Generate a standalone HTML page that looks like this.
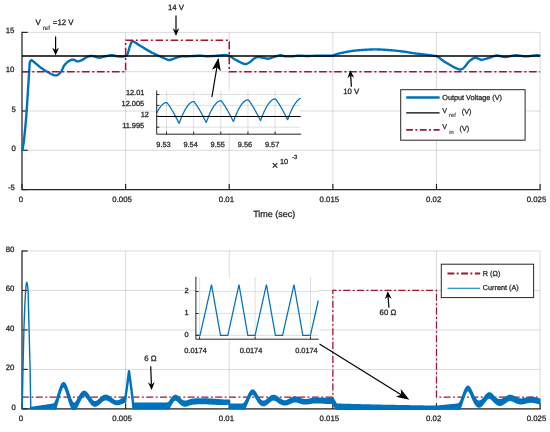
<!DOCTYPE html>
<html lang="en"><head><meta charset="utf-8"><title>Plot</title>
<style>html,body{margin:0;padding:0;background:#fff;overflow:hidden;}svg{display:block;}</style>
</head><body>
<svg width="550" height="432" viewBox="0 0 550 432" font-family='"Liberation Sans", Arial, Helvetica, sans-serif' fill="#262626" text-rendering="geometricPrecision">
<style>text{stroke:#262626;stroke-width:0.28px;stroke-linejoin:round}</style>
<rect width="550" height="432" fill="#fff"/>
<g stroke="#262626" stroke-opacity="0.165" stroke-width="1.0" fill="none"><line x1="22" y1="32.4" x2="22" y2="189.6"/><line x1="125.62" y1="32.4" x2="125.62" y2="189.6"/><line x1="229.24" y1="32.4" x2="229.24" y2="189.6"/><line x1="332.86" y1="32.4" x2="332.86" y2="189.6"/><line x1="436.48" y1="32.4" x2="436.48" y2="189.6"/><line x1="540.1" y1="32.4" x2="540.1" y2="189.6"/><line x1="22" y1="32.4" x2="540.1" y2="32.4"/><line x1="22" y1="71.7" x2="540.1" y2="71.7"/><line x1="22" y1="111" x2="540.1" y2="111"/><line x1="22" y1="150.3" x2="540.1" y2="150.3"/><line x1="22" y1="189.6" x2="540.1" y2="189.6"/></g>
<g stroke="#262626" stroke-opacity="0.165" stroke-width="1.0" fill="none"><line x1="22" y1="251" x2="22" y2="408.9"/><line x1="125.62" y1="251" x2="125.62" y2="408.9"/><line x1="229.24" y1="251" x2="229.24" y2="408.9"/><line x1="332.86" y1="251" x2="332.86" y2="408.9"/><line x1="436.48" y1="251" x2="436.48" y2="408.9"/><line x1="540.1" y1="251" x2="540.1" y2="408.9"/><line x1="22" y1="251" x2="540.1" y2="251"/><line x1="22" y1="290.48" x2="540.1" y2="290.48"/><line x1="22" y1="329.95" x2="540.1" y2="329.95"/><line x1="22" y1="369.42" x2="540.1" y2="369.42"/><line x1="22" y1="408.9" x2="540.1" y2="408.9"/></g>
<g stroke="#262626" stroke-width="1.2" fill="none"><path d="M22 32.4 V189.6 H540.1" stroke-linecap="square"/><line x1="22" y1="189.6" x2="22" y2="183.9"/><line x1="125.62" y1="189.6" x2="125.62" y2="183.9"/><line x1="229.24" y1="189.6" x2="229.24" y2="183.9"/><line x1="332.86" y1="189.6" x2="332.86" y2="183.9"/><line x1="436.48" y1="189.6" x2="436.48" y2="183.9"/><line x1="540.1" y1="189.6" x2="540.1" y2="183.9"/><line x1="22" y1="32.4" x2="27.7" y2="32.4"/><line x1="22" y1="71.7" x2="27.7" y2="71.7"/><line x1="22" y1="111" x2="27.7" y2="111"/><line x1="22" y1="150.3" x2="27.7" y2="150.3"/><line x1="22" y1="189.6" x2="27.7" y2="189.6"/></g>
<path d="M22.4 150.2 L22.49 149.71 L22.59 149.22 L22.68 148.72 L22.77 148.23 L22.86 147.74 L22.94 147.25 L23.03 146.76 L23.11 146.26 L23.2 145.77 L23.28 145.28 L23.36 144.78 L23.43 144.29 L23.51 143.8 L23.58 143.3 L23.65 142.81 L23.72 142.31 L23.78 141.82 L23.85 141.32 L23.91 140.82 L23.96 140.33 L24.02 139.83 L24.07 139.33 L24.13 138.84 L24.18 138.34 L24.23 137.84 L24.28 137.35 L24.34 136.85 L24.39 136.35 L24.44 135.85 L24.49 135.36 L24.54 134.86 L24.6 134.36 L24.65 133.87 L24.7 133.37 L24.75 132.87 L24.8 132.37 L24.85 131.88 L24.9 131.38 L24.95 130.88 L25 130.38 L25.05 129.89 L25.09 129.39 L25.14 128.89 L25.19 128.39 L25.24 127.9 L25.29 127.4 L25.33 126.9 L25.38 126.4 L25.43 125.91 L25.47 125.41 L25.52 124.91 L25.56 124.41 L25.61 123.92 L25.65 123.42 L25.7 122.92 L25.74 122.42 L25.78 121.92 L25.83 121.43 L25.87 120.93 L25.91 120.43 L25.95 119.93 L25.99 119.43 L26.04 118.94 L26.08 118.44 L26.12 117.94 L26.16 117.44 L26.2 116.94 L26.24 116.45 L26.27 115.95 L26.31 115.45 L26.35 114.95 L26.39 114.45 L26.42 113.95 L26.46 113.46 L26.5 112.96 L26.53 112.46 L26.57 111.96 L26.6 111.46 L26.64 110.96 L26.67 110.46 L26.7 109.97 L26.74 109.47 L26.77 108.97 L26.8 108.47 L26.83 107.97 L26.87 107.47 L26.9 106.97 L26.93 106.48 L26.96 105.98 L27 105.48 L27.03 104.98 L27.06 104.48 L27.09 103.98 L27.13 103.48 L27.16 102.98 L27.19 102.49 L27.22 101.99 L27.26 101.49 L27.29 100.99 L27.32 100.49 L27.35 99.99 L27.39 99.49 L27.42 98.99 L27.45 98.5 L27.48 98 L27.52 97.5 L27.55 97 L27.58 96.5 L27.61 96 L27.64 95.5 L27.68 95.01 L27.71 94.51 L27.74 94.01 L27.77 93.51 L27.81 93.01 L27.84 92.51 L27.87 92.01 L27.9 91.51 L27.93 91.02 L27.97 90.52 L28 90.02 L28.03 89.52 L28.06 89.02 L28.1 88.52 L28.13 88.02 L28.16 87.52 L28.19 87.03 L28.22 86.53 L28.25 86.03 L28.29 85.53 L28.32 85.03 L28.35 84.53 L28.38 84.03 L28.41 83.53 L28.44 83.04 L28.47 82.54 L28.5 82.04 L28.54 81.54 L28.57 81.04 L28.6 80.54 L28.63 80.04 L28.66 79.54 L28.69 79.05 L28.72 78.55 L28.75 78.05 L28.78 77.55 L28.81 77.05 L28.84 76.55 L28.88 76.05 L28.91 75.55 L28.94 75.05 L28.97 74.56 L29 74.06 L29.03 73.56 L29.06 73.06 L29.09 72.56 L29.12 72.06 L29.15 71.56 L29.18 71.06 L29.21 70.57 L29.25 70.07 L29.28 69.57 L29.31 69.07 L29.34 68.57 L29.37 68.07 L29.4 67.57 L29.43 67.07 L29.46 66.58 L29.5 66.08 L29.52 65.58 L29.53 65.08 L29.54 64.59 L29.56 64.1 L29.6 63.61 L29.67 63.12 L29.77 62.63 L29.93 62.14 L30.14 61.65 L30.42 61.16 L30.78 60.65 L31.17 60.24 L31.58 60.19 L31.98 60.43 L32.39 60.72 L32.79 61.03 L33.19 61.35 L33.59 61.67 L33.98 61.99 L34.37 62.31 L34.76 62.63 L35.15 62.95 L35.53 63.27 L35.91 63.6 L36.29 63.92 L36.67 64.24 L37.05 64.56 L37.43 64.88 L37.81 65.2 L38.19 65.52 L38.57 65.84 L38.96 66.16 L39.34 66.47 L39.73 66.79 L40.12 67.1 L40.52 67.4 L40.92 67.7 L41.32 68 L41.72 68.29 L42.13 68.58 L42.54 68.86 L42.95 69.14 L43.36 69.41 L43.78 69.68 L44.19 69.95 L44.61 70.21 L45.03 70.47 L45.46 70.73 L45.88 70.99 L46.31 71.25 L46.74 71.5 L47.17 71.76 L47.61 72.01 L48.04 72.27 L48.48 72.52 L48.92 72.78 L49.36 73.03 L49.8 73.29 L50.25 73.54 L50.71 73.79 L51.17 74.03 L51.64 74.26 L52.12 74.48 L52.6 74.67 L53.08 74.85 L53.57 75.01 L54.05 75.15 L54.53 75.25 L55.01 75.33 L55.49 75.38 L55.96 75.4 L56.42 75.36 L56.87 75.26 L57.32 75.09 L57.76 74.86 L58.2 74.58 L58.62 74.27 L59.03 73.92 L59.44 73.55 L59.83 73.17 L60.21 72.77 L60.56 72.37 L60.88 71.95 L61.17 71.52 L61.44 71.09 L61.69 70.65 L61.92 70.2 L62.14 69.75 L62.35 69.3 L62.55 68.84 L62.75 68.39 L62.95 67.94 L63.15 67.49 L63.36 67.04 L63.58 66.61 L63.81 66.18 L64.06 65.76 L64.33 65.35 L64.63 64.95 L64.95 64.56 L65.28 64.19 L65.63 63.83 L65.97 63.47 L66.32 63.13 L66.68 62.8 L67.05 62.47 L67.42 62.15 L67.81 61.85 L68.2 61.55 L68.62 61.26 L69.04 60.97 L69.49 60.7 L69.95 60.43 L70.43 60.18 L70.91 59.99 L71.4 59.84 L71.89 59.73 L72.37 59.65 L72.85 59.61 L73.32 59.61 L73.79 59.72 L74.26 59.9 L74.73 60.14 L75.2 60.42 L75.67 60.7 L76.14 60.97 L76.61 61.19 L77.08 61.36 L77.55 61.43 L78.02 61.4 L78.5 61.29 L78.97 61.17 L79.44 61.02 L79.91 60.86 L80.38 60.69 L80.86 60.5 L81.33 60.3 L81.8 60.09 L82.27 59.87 L82.72 59.64 L83.16 59.39 L83.59 59.14 L84.01 58.87 L84.42 58.61 L84.84 58.34 L85.25 58.07 L85.66 57.81 L86.09 57.55 L86.52 57.31 L86.96 57.07 L87.42 56.85 L87.89 56.64 L88.38 56.46 L88.87 56.32 L89.37 56.21 L89.86 56.12 L90.36 56.06 L90.86 56.03 L91.35 56.01 L91.84 56 L92.33 56.01 L92.82 56.07 L93.31 56.16 L93.81 56.28 L94.3 56.42 L94.79 56.58 L95.28 56.75 L95.77 56.92 L96.26 57.09 L96.75 57.25 L97.24 57.39 L97.73 57.52 L98.22 57.61 L98.71 57.67 L99.2 57.68 L99.69 57.65 L100.17 57.57 L100.66 57.46 L101.15 57.36 L101.63 57.24 L102.12 57.13 L102.61 57.01 L103.09 56.89 L103.58 56.77 L104.06 56.65 L104.55 56.53 L105.04 56.42 L105.52 56.3 L106.01 56.2 L106.5 56.09 L106.99 55.98 L107.48 55.88 L107.97 55.77 L108.46 55.67 L108.95 55.57 L109.44 55.47 L109.93 55.38 L110.42 55.29 L110.91 55.21 L111.4 55.16 L111.9 55.14 L112.39 55.17 L112.88 55.23 L113.37 55.32 L113.86 55.43 L114.36 55.56 L114.85 55.69 L115.34 55.83 L115.84 55.97 L116.33 56.1 L116.82 56.22 L117.32 56.31 L117.81 56.38 L118.3 56.42 L118.8 56.46 L119.29 56.49 L119.79 56.51 L120.29 56.53 L120.79 56.54 L121.29 56.53 L121.8 56.52 L122.3 56.5 L122.8 56.47 L123.3 56.43 L123.8 56.38 L124.3 56.31 L124.8 56.24 L125.3 56.14 L125.8 55.98 L126.27 55.75 L126.68 55.44 L126.98 55.03 L127.21 54.56 L127.42 54.1 L127.62 53.63 L127.8 53.15 L127.97 52.68 L128.13 52.2 L128.28 51.73 L128.43 51.25 L128.57 50.77 L128.7 50.3 L128.83 49.82 L128.97 49.34 L129.1 48.86 L129.23 48.39 L129.37 47.91 L129.52 47.44 L129.67 46.96 L129.82 46.49 L129.99 46.02 L130.16 45.56 L130.33 45.09 L130.49 44.62 L130.66 44.16 L130.84 43.7 L131.02 43.23 L131.22 42.77 L131.44 42.31 L131.69 41.85 L132.05 41.42 L132.49 41.2 L132.95 41.27 L133.42 41.47 L133.88 41.72 L134.31 41.99 L134.73 42.26 L135.15 42.53 L135.57 42.8 L135.99 43.07 L136.42 43.34 L136.84 43.6 L137.26 43.87 L137.68 44.14 L138.1 44.41 L138.52 44.68 L138.94 44.94 L139.37 45.21 L139.79 45.47 L140.22 45.73 L140.64 45.99 L141.07 46.26 L141.49 46.52 L141.92 46.78 L142.34 47.04 L142.77 47.31 L143.19 47.57 L143.62 47.83 L144.04 48.09 L144.47 48.35 L144.9 48.61 L145.32 48.87 L145.75 49.13 L146.18 49.39 L146.61 49.65 L147.04 49.9 L147.47 50.16 L147.9 50.41 L148.33 50.66 L148.77 50.91 L149.2 51.15 L149.64 51.4 L150.08 51.64 L150.51 51.88 L150.96 52.12 L151.4 52.35 L151.84 52.58 L152.29 52.8 L152.74 53.03 L153.19 53.25 L153.63 53.46 L154.09 53.68 L154.54 53.89 L154.99 54.1 L155.44 54.31 L155.9 54.52 L156.35 54.73 L156.8 54.94 L157.26 55.15 L157.71 55.35 L158.17 55.56 L158.63 55.77 L159.08 55.98 L159.53 56.19 L159.99 56.4 L160.44 56.6 L160.9 56.81 L161.35 57.01 L161.81 57.22 L162.26 57.42 L162.72 57.61 L163.18 57.81 L163.63 58.01 L164.09 58.2 L164.55 58.4 L165.02 58.59 L165.48 58.78 L165.95 58.98 L166.42 59.18 L166.9 59.4 L167.39 59.61 L167.88 59.81 L168.37 59.96 L168.86 60.06 L169.35 60.1 L169.83 60.04 L170.3 59.91 L170.78 59.75 L171.25 59.59 L171.72 59.42 L172.19 59.25 L172.66 59.08 L173.13 58.91 L173.6 58.74 L174.08 58.57 L174.55 58.41 L175.02 58.24 L175.48 58.06 L175.95 57.88 L176.42 57.7 L176.88 57.53 L177.35 57.36 L177.83 57.19 L178.3 57.04 L178.78 56.89 L179.27 56.76 L179.76 56.65 L180.25 56.55 L180.75 56.47 L181.25 56.41 L181.74 56.35 L182.24 56.31 L182.74 56.28 L183.24 56.26 L183.74 56.25 L184.24 56.24 L184.74 56.23 L185.24 56.23 L185.74 56.23 L186.24 56.23 L186.74 56.23 L187.24 56.22 L187.74 56.21 L188.24 56.19 L188.74 56.17 L189.24 56.16 L189.74 56.14 L190.24 56.13 L190.74 56.11 L191.24 56.09 L191.74 56.08 L192.23 56.06 L192.73 56.04 L193.23 56.03 L193.73 56.01 L194.23 55.99 L194.73 55.97 L195.23 55.93 L195.73 55.9 L196.23 55.86 L196.73 55.82 L197.23 55.78 L197.72 55.74 L198.22 55.7 L198.72 55.66 L199.22 55.63 L199.72 55.61 L200.22 55.6 L200.71 55.6 L201.21 55.64 L201.71 55.69 L202.21 55.75 L202.7 55.82 L203.2 55.9 L203.7 55.97 L204.19 56.05 L204.69 56.11 L205.19 56.16 L205.68 56.19 L206.18 56.2 L206.68 56.21 L207.18 56.21 L207.68 56.21 L208.18 56.2 L208.68 56.2 L209.18 56.19 L209.68 56.18 L210.18 56.17 L210.68 56.15 L211.18 56.14 L211.68 56.12 L212.18 56.1 L212.68 56.07 L213.18 56.05 L213.68 56.02 L214.18 55.99 L214.67 55.95 L215.17 55.91 L215.67 55.86 L216.17 55.81 L216.66 55.75 L217.16 55.7 L217.66 55.64 L218.16 55.58 L218.65 55.53 L219.15 55.48 L219.65 55.43 L220.14 55.39 L220.64 55.34 L221.14 55.3 L221.64 55.25 L222.14 55.2 L222.65 55.16 L223.15 55.12 L223.65 55.09 L224.15 55.06 L224.66 55.05 L225.16 55.06 L225.66 55.08 L226.16 55.12 L226.66 55.17 L227.16 55.26 L227.65 55.36 L228.15 55.5 L228.64 55.66 L229.13 55.85 L229.6 56.07 L230.06 56.3 L230.51 56.54 L230.94 56.8 L231.37 57.06 L231.79 57.33 L232.2 57.6 L232.61 57.88 L233.02 58.16 L233.43 58.43 L233.84 58.7 L234.26 58.96 L234.68 59.22 L235.11 59.46 L235.55 59.7 L235.99 59.94 L236.42 60.18 L236.86 60.42 L237.3 60.66 L237.74 60.89 L238.18 61.13 L238.62 61.36 L239.06 61.6 L239.5 61.83 L239.95 62.06 L240.39 62.29 L240.84 62.52 L241.3 62.75 L241.76 62.98 L242.24 63.19 L242.72 63.4 L243.21 63.58 L243.71 63.74 L244.2 63.87 L244.69 63.96 L245.17 64.02 L245.65 64.03 L246.12 63.98 L246.59 63.88 L247.04 63.73 L247.5 63.54 L247.95 63.3 L248.39 63.05 L248.83 62.77 L249.27 62.48 L249.7 62.19 L250.14 61.91 L250.55 61.62 L250.94 61.31 L251.31 60.99 L251.68 60.66 L252.04 60.33 L252.4 59.99 L252.76 59.66 L253.12 59.33 L253.5 59.01 L253.9 58.7 L254.32 58.41 L254.77 58.13 L255.24 57.87 L255.72 57.64 L256.2 57.44 L256.69 57.27 L257.17 57.13 L257.66 57.04 L258.15 56.98 L258.63 56.97 L259.12 57.01 L259.61 57.08 L260.1 57.16 L260.59 57.26 L261.08 57.36 L261.57 57.47 L262.06 57.59 L262.55 57.7 L263.04 57.82 L263.53 57.93 L264.02 58.03 L264.51 58.12 L265 58.2 L265.5 58.29 L266 58.4 L266.5 58.52 L267.01 58.63 L267.51 58.7 L268.01 58.74 L268.5 58.71 L268.98 58.61 L269.46 58.45 L269.94 58.3 L270.41 58.15 L270.89 58 L271.36 57.84 L271.84 57.69 L272.32 57.54 L272.79 57.39 L273.27 57.23 L273.74 57.08 L274.22 56.93 L274.7 56.78 L275.17 56.63 L275.65 56.47 L276.12 56.32 L276.6 56.17 L277.08 56.02 L277.55 55.86 L278.03 55.71 L278.5 55.56 L278.98 55.41 L279.46 55.29 L279.94 55.24 L280.43 55.25 L280.92 55.3 L281.42 55.39 L281.92 55.51 L282.41 55.65 L282.92 55.79 L283.42 55.92 L283.92 56.04 L284.42 56.14 L284.92 56.2 L285.42 56.22 L285.92 56.25 L286.42 56.28 L286.92 56.31 L287.42 56.33 L287.92 56.35 L288.42 56.37 L288.92 56.39 L289.42 56.4 L289.92 56.41 L290.42 56.41 L290.92 56.4 L291.41 56.39 L291.91 56.36 L292.41 56.32 L292.91 56.27 L293.4 56.21 L293.9 56.14 L294.4 56.07 L294.89 56 L295.39 55.93 L295.89 55.86 L296.38 55.79 L296.88 55.73 L297.38 55.68 L297.88 55.64 L298.37 55.62 L298.87 55.6 L299.37 55.6 L299.87 55.61 L300.37 55.63 L300.87 55.66 L301.37 55.69 L301.87 55.72 L302.36 55.76 L302.86 55.8 L303.36 55.84 L303.86 55.88 L304.36 55.91 L304.86 55.94 L305.36 55.97 L305.86 55.99 L306.36 56 L306.86 56 L307.36 55.99 L307.86 55.98 L308.36 55.97 L308.86 55.96 L309.36 55.94 L309.86 55.93 L310.35 55.91 L310.85 55.9 L311.35 55.88 L311.85 55.87 L312.35 55.85 L312.85 55.84 L313.35 55.83 L313.85 55.81 L314.35 55.81 L314.85 55.8 L315.35 55.8 L315.85 55.8 L316.35 55.79 L316.85 55.79 L317.35 55.79 L317.85 55.79 L318.35 55.79 L318.85 55.79 L319.35 55.79 L319.85 55.79 L320.35 55.8 L320.85 55.8 L321.35 55.8 L321.85 55.8 L322.35 55.8 L322.85 55.8 L323.35 55.8 L323.85 55.8 L324.35 55.8 L324.85 55.8 L325.35 55.8 L325.85 55.8 L326.35 55.8 L326.85 55.8 L327.35 55.8 L327.84 55.79 L328.34 55.79 L328.84 55.78 L329.34 55.76 L329.84 55.75 L330.34 55.72 L330.84 55.69 L331.34 55.66 L331.84 55.62 L332.34 55.56 L332.83 55.46 L333.31 55.33 L333.78 55.17 L334.25 55 L334.72 54.81 L335.19 54.62 L335.65 54.44 L336.13 54.26 L336.6 54.11 L337.09 53.98 L337.57 53.86 L338.06 53.74 L338.54 53.63 L339.03 53.51 L339.51 53.4 L340 53.28 L340.49 53.17 L340.97 53.05 L341.46 52.94 L341.95 52.83 L342.44 52.73 L342.92 52.62 L343.41 52.52 L343.9 52.42 L344.39 52.32 L344.89 52.22 L345.38 52.13 L345.87 52.04 L346.36 51.94 L346.85 51.85 L347.34 51.76 L347.84 51.67 L348.33 51.59 L348.82 51.5 L349.31 51.42 L349.81 51.33 L350.3 51.25 L350.79 51.17 L351.29 51.1 L351.78 51.02 L352.27 50.95 L352.77 50.88 L353.26 50.81 L353.76 50.75 L354.26 50.69 L354.75 50.63 L355.25 50.57 L355.75 50.52 L356.24 50.47 L356.74 50.42 L357.24 50.37 L357.74 50.32 L358.24 50.28 L358.73 50.23 L359.23 50.19 L359.73 50.15 L360.23 50.11 L360.73 50.08 L361.22 50.04 L361.72 50.01 L362.22 49.97 L362.72 49.94 L363.22 49.91 L363.72 49.88 L364.22 49.85 L364.71 49.82 L365.21 49.79 L365.71 49.76 L366.21 49.73 L366.71 49.7 L367.21 49.67 L367.71 49.65 L368.21 49.62 L368.71 49.59 L369.21 49.57 L369.71 49.54 L370.21 49.52 L370.71 49.5 L371.21 49.48 L371.71 49.46 L372.21 49.45 L372.71 49.43 L373.21 49.42 L373.7 49.41 L374.2 49.4 L374.7 49.4 L375.2 49.4 L375.7 49.4 L376.2 49.4 L376.7 49.41 L377.2 49.42 L377.7 49.43 L378.2 49.44 L378.7 49.46 L379.2 49.48 L379.7 49.5 L380.2 49.52 L380.7 49.54 L381.19 49.57 L381.69 49.59 L382.19 49.62 L382.69 49.65 L383.19 49.68 L383.69 49.71 L384.19 49.75 L384.69 49.78 L385.19 49.81 L385.69 49.85 L386.19 49.88 L386.68 49.92 L387.18 49.95 L387.68 49.99 L388.18 50.02 L388.68 50.06 L389.18 50.1 L389.68 50.14 L390.17 50.18 L390.67 50.21 L391.17 50.26 L391.67 50.3 L392.16 50.34 L392.66 50.38 L393.16 50.43 L393.66 50.47 L394.16 50.52 L394.65 50.57 L395.15 50.61 L395.65 50.67 L396.15 50.72 L396.64 50.77 L397.14 50.82 L397.64 50.88 L398.13 50.93 L398.63 50.99 L399.13 51.05 L399.62 51.1 L400.12 51.16 L400.61 51.22 L401.11 51.28 L401.61 51.35 L402.1 51.41 L402.6 51.47 L403.09 51.54 L403.59 51.61 L404.08 51.67 L404.58 51.74 L405.07 51.81 L405.57 51.88 L406.06 51.96 L406.56 52.03 L407.05 52.11 L407.54 52.19 L408.04 52.28 L408.53 52.36 L409.02 52.44 L409.51 52.53 L410.01 52.61 L410.5 52.7 L410.99 52.78 L411.49 52.87 L411.98 52.95 L412.47 53.03 L412.97 53.11 L413.46 53.18 L413.95 53.26 L414.45 53.33 L414.94 53.39 L415.44 53.46 L415.93 53.52 L416.43 53.58 L416.93 53.64 L417.42 53.7 L417.92 53.76 L418.41 53.82 L418.91 53.88 L419.41 53.94 L419.9 54 L420.4 54.05 L420.9 54.11 L421.39 54.17 L421.89 54.23 L422.39 54.29 L422.88 54.34 L423.38 54.4 L423.87 54.46 L424.37 54.52 L424.87 54.58 L425.36 54.65 L425.86 54.71 L426.35 54.77 L426.85 54.83 L427.35 54.9 L427.84 54.96 L428.34 55.03 L428.83 55.1 L429.33 55.16 L429.82 55.23 L430.32 55.3 L430.81 55.36 L431.31 55.43 L431.8 55.5 L432.3 55.57 L432.79 55.64 L433.29 55.7 L433.78 55.77 L434.28 55.84 L434.77 55.91 L435.27 55.98 L435.76 56.07 L436.25 56.18 L436.73 56.31 L437.21 56.48 L437.68 56.68 L438.12 56.92 L438.55 57.18 L438.97 57.46 L439.37 57.76 L439.76 58.07 L440.14 58.4 L440.52 58.73 L440.9 59.06 L441.28 59.39 L441.66 59.71 L442.05 60.02 L442.44 60.32 L442.85 60.61 L443.28 60.87 L443.7 61.14 L444.12 61.4 L444.55 61.67 L444.97 61.93 L445.39 62.19 L445.82 62.45 L446.24 62.71 L446.67 62.97 L447.1 63.23 L447.52 63.49 L447.95 63.75 L448.38 64.01 L448.81 64.26 L449.24 64.52 L449.67 64.77 L450.1 65.02 L450.54 65.28 L450.97 65.53 L451.41 65.78 L451.84 66.02 L452.28 66.27 L452.72 66.51 L453.16 66.74 L453.61 66.96 L454.05 67.19 L454.5 67.4 L454.95 67.62 L455.4 67.83 L455.85 68.04 L456.31 68.24 L456.77 68.45 L457.22 68.66 L457.68 68.86 L458.15 69.06 L458.63 69.25 L459.12 69.39 L459.62 69.48 L460.12 69.52 L460.6 69.49 L461.07 69.38 L461.53 69.22 L461.98 69.01 L462.42 68.75 L462.85 68.46 L463.27 68.14 L463.68 67.81 L464.07 67.46 L464.44 67.1 L464.79 66.73 L465.12 66.36 L465.44 65.97 L465.75 65.58 L466.04 65.19 L466.33 64.79 L466.62 64.39 L466.91 63.99 L467.2 63.59 L467.49 63.2 L467.8 62.81 L468.11 62.42 L468.45 62.05 L468.8 61.68 L469.17 61.32 L469.56 60.97 L469.95 60.64 L470.35 60.31 L470.75 59.99 L471.16 59.69 L471.57 59.4 L471.99 59.13 L472.42 58.87 L472.85 58.64 L473.3 58.42 L473.75 58.22 L474.22 58.05 L474.7 57.9 L475.18 57.81 L475.67 57.79 L476.15 57.85 L476.64 57.97 L477.13 58.13 L477.62 58.32 L478.1 58.54 L478.59 58.77 L479.08 59 L479.57 59.23 L480.06 59.42 L480.54 59.59 L481.03 59.71 L481.51 59.77 L482 59.77 L482.48 59.68 L482.96 59.56 L483.45 59.45 L483.93 59.32 L484.41 59.2 L484.89 59.07 L485.38 58.94 L485.86 58.81 L486.34 58.68 L486.82 58.54 L487.31 58.4 L487.79 58.26 L488.27 58.12 L488.75 57.98 L489.23 57.83 L489.71 57.67 L490.18 57.51 L490.65 57.34 L491.12 57.17 L491.58 57 L492.05 56.83 L492.52 56.65 L492.99 56.48 L493.46 56.32 L493.93 56.16 L494.41 56.01 L494.89 55.86 L495.38 55.73 L495.87 55.62 L496.36 55.55 L496.85 55.53 L497.35 55.53 L497.84 55.57 L498.34 55.64 L498.83 55.73 L499.33 55.84 L499.83 55.96 L500.32 56.09 L500.82 56.22 L501.32 56.36 L501.81 56.5 L502.31 56.62 L502.81 56.74 L503.3 56.84 L503.8 56.92 L504.29 56.98 L504.79 57.01 L505.28 57 L505.78 56.97 L506.27 56.92 L506.76 56.86 L507.26 56.79 L507.75 56.71 L508.24 56.62 L508.74 56.52 L509.23 56.42 L509.72 56.31 L510.22 56.2 L510.71 56.09 L511.2 55.98 L511.7 55.88 L512.19 55.78 L512.68 55.68 L513.18 55.59 L513.67 55.51 L514.17 55.44 L514.66 55.38 L515.16 55.34 L515.65 55.31 L516.15 55.3 L516.64 55.31 L517.14 55.33 L517.63 55.36 L518.13 55.41 L518.63 55.47 L519.12 55.54 L519.62 55.61 L520.12 55.69 L520.61 55.77 L521.11 55.86 L521.61 55.94 L522.1 56.02 L522.6 56.1 L523.1 56.17 L523.59 56.24 L524.09 56.3 L524.59 56.34 L525.08 56.38 L525.58 56.4 L526.08 56.4 L526.58 56.39 L527.07 56.37 L527.57 56.33 L528.07 56.29 L528.57 56.24 L529.06 56.18 L529.56 56.12 L530.06 56.05 L530.55 55.98 L531.05 55.9 L531.55 55.83 L532.05 55.75 L532.54 55.68 L533.04 55.61 L533.54 55.54 L534.04 55.48 L534.53 55.43 L535.03 55.38 L535.53 55.34 L536.03 55.32 L536.52 55.3 L537.02 55.3 L537.52 55.32 L538.01 55.35 L538.51 55.41 L539 55.5 L539.5 55.6" fill="none" stroke="#0072BD" stroke-width="2.4" stroke-linejoin="round" stroke-linecap="round"/>
<line x1="22" y1="55.98" x2="540.1" y2="55.98" stroke="#000" stroke-width="1.35"/>
<path d="M22 71.7 L125.62 71.7 L125.62 40.26 L229.24 40.26 L229.24 71.7 L540.1 71.7" fill="none" stroke="#A2142F" stroke-width="1.5" stroke-dasharray="7.6 2.7 2 2.7"/>
<text x="5.64" y="33" font-size="7.8" text-anchor="start">15</text>
<text x="5.64" y="72.3" font-size="7.8" text-anchor="start">10</text>
<text x="11.42" y="111.6" font-size="7.8" text-anchor="start">5</text>
<text x="11.42" y="150.9" font-size="7.8" text-anchor="start">0</text>
<text x="7.95" y="190.2" font-size="7.8" text-anchor="start">-5</text>
<text x="20.98" y="201.5" font-size="7.8" text-anchor="middle">0</text>
<text x="122.07" y="201.5" font-size="7.8" text-anchor="middle">0.005</text>
<text x="226.41" y="201.5" font-size="7.8" text-anchor="middle">0.01</text>
<text x="329.31" y="201.5" font-size="7.8" text-anchor="middle">0.015</text>
<text x="433.65" y="201.5" font-size="7.8" text-anchor="middle">0.02</text>
<text x="536.55" y="201.5" font-size="7.8" text-anchor="middle">0.025</text>
<text x="274.3" y="216.6" font-size="9.0" text-anchor="middle">Time (sec)</text>
<rect x="156.7" y="90.9" width="144" height="43.3" fill="#fff"/>
<g stroke="#262626" stroke-opacity="0.165" stroke-width="0.9" fill="none"><line x1="166.5" y1="90.9" x2="166.5" y2="134.2"/><line x1="193.65" y1="90.9" x2="193.65" y2="134.2"/><line x1="220.8" y1="90.9" x2="220.8" y2="134.2"/><line x1="247.95" y1="90.9" x2="247.95" y2="134.2"/><line x1="275.1" y1="90.9" x2="275.1" y2="134.2"/><line x1="156.7" y1="94.5" x2="300.7" y2="94.5"/><line x1="156.7" y1="105.4" x2="300.7" y2="105.4"/><line x1="156.7" y1="116.3" x2="300.7" y2="116.3"/><line x1="156.7" y1="127.2" x2="300.7" y2="127.2"/></g>
<path d="M156.7 113.07 L156.95 112.57 L157.2 112.09 L157.45 111.62 L157.7 111.16 L157.95 110.71 L158.2 110.27 L158.45 109.85 L158.7 109.43 L158.95 109.03 L159.2 108.64 L159.45 108.26 L159.7 107.89 L159.95 107.53 L160.2 107.18 L160.45 106.85 L160.7 106.53 L160.95 106.22 L161.2 105.92 L161.45 105.63 L161.7 105.36 L161.95 105.09 L162.2 104.84 L162.45 104.6 L162.7 104.38 L162.95 104.16 L163.2 103.96 L163.45 103.77 L163.7 103.59 L163.95 103.43 L164.2 103.27 L164.45 103.14 L164.7 103.01 L164.95 102.9 L165.2 102.8 L165.45 102.71 L165.7 102.64 L165.95 102.58 L166.2 102.54 L166.45 102.51 L166.7 102.56 L166.95 102.78 L167.2 103.04 L167.45 103.32 L167.7 103.62 L167.95 103.93 L168.2 104.26 L168.45 104.59 L168.7 104.94 L168.95 105.29 L169.2 105.65 L169.45 106.02 L169.7 106.4 L169.95 106.78 L170.2 107.17 L170.45 107.56 L170.7 107.96 L170.95 108.36 L171.2 108.77 L171.45 109.19 L171.7 109.6 L171.95 110.03 L172.2 110.45 L172.45 110.88 L172.7 111.31 L172.95 111.75 L173.2 112.19 L173.45 112.64 L173.7 113.08 L173.95 113.53 L174.2 113.99 L174.45 114.44 L174.7 114.9 L174.95 115.37 L175.2 115.83 L175.45 116.3 L175.7 116.77 L175.95 117.24 L176.2 117.72 L176.45 118.2 L176.7 118.68 L176.95 119.16 L177.2 119.65 L177.45 120.14 L177.7 120.63 L177.95 121.12 L178.2 121.61 L178.45 122.11 L178.7 122.61 L178.95 123.11 L179.2 123.28 L179.45 122.58 L179.7 121.9 L179.95 121.22 L180.2 120.56 L180.45 119.9 L180.7 119.26 L180.95 118.63 L181.2 118.01 L181.45 117.4 L181.7 116.8 L181.95 116.21 L182.2 115.63 L182.45 115.07 L182.7 114.51 L182.95 113.97 L183.2 113.44 L183.45 112.92 L183.7 112.4 L183.95 111.91 L184.2 111.42 L184.45 110.94 L184.7 110.47 L184.95 110.02 L185.2 109.58 L185.45 109.14 L185.7 108.72 L185.95 108.31 L186.2 107.92 L186.45 107.53 L186.7 107.15 L186.95 106.79 L187.2 106.44 L187.45 106.1 L187.7 105.77 L187.95 105.45 L188.2 105.15 L188.45 104.86 L188.7 104.57 L188.95 104.3 L189.2 104.05 L189.45 103.8 L189.7 103.57 L189.95 103.35 L190.2 103.14 L190.45 102.94 L190.7 102.76 L190.95 102.59 L191.2 102.43 L191.45 102.28 L191.7 102.15 L191.95 102.03 L192.2 101.92 L192.45 101.83 L192.7 101.75 L192.95 101.69 L193.2 101.63 L193.45 101.6 L193.7 101.58 L193.95 101.74 L194.2 101.98 L194.45 102.25 L194.7 102.54 L194.95 102.84 L195.2 103.16 L195.45 103.49 L195.7 103.83 L195.95 104.18 L196.2 104.54 L196.45 104.91 L196.7 105.28 L196.95 105.66 L197.2 106.04 L197.45 106.43 L197.7 106.83 L197.95 107.23 L198.2 107.64 L198.45 108.05 L198.7 108.46 L198.95 108.88 L199.2 109.31 L199.45 109.73 L199.7 110.17 L199.95 110.6 L200.2 111.04 L200.45 111.48 L200.7 111.93 L200.95 112.38 L201.2 112.83 L201.45 113.28 L201.7 113.74 L201.95 114.2 L202.2 114.67 L202.45 115.13 L202.7 115.6 L202.95 116.07 L203.2 116.55 L203.45 117.03 L203.7 117.51 L203.95 117.99 L204.2 118.47 L204.45 118.96 L204.7 119.45 L204.95 119.94 L205.2 120.43 L205.45 120.93 L205.7 121.43 L205.95 121.93 L206.2 122.43 L206.45 122.02 L206.7 121.33 L206.95 120.65 L207.2 119.98 L207.45 119.32 L207.7 118.67 L207.95 118.03 L208.2 117.41 L208.45 116.79 L208.7 116.19 L208.95 115.59 L209.2 115.01 L209.45 114.44 L209.7 113.88 L209.95 113.33 L210.2 112.79 L210.45 112.26 L210.7 111.75 L210.95 111.24 L211.2 110.75 L211.45 110.26 L211.7 109.79 L211.95 109.33 L212.2 108.88 L212.45 108.44 L212.7 108.02 L212.95 107.6 L213.2 107.2 L213.45 106.81 L213.7 106.43 L213.95 106.06 L214.2 105.7 L214.45 105.35 L214.7 105.02 L214.95 104.69 L215.2 104.38 L215.45 104.08 L215.7 103.8 L215.95 103.52 L216.2 103.26 L216.45 103.01 L216.7 102.77 L216.95 102.54 L217.2 102.32 L217.45 102.12 L217.7 101.93 L217.95 101.75 L218.2 101.59 L218.45 101.44 L218.7 101.3 L218.95 101.17 L219.2 101.06 L219.45 100.96 L219.7 100.87 L219.95 100.8 L220.2 100.74 L220.45 100.69 L220.7 100.66 L220.95 100.71 L221.2 100.93 L221.45 101.18 L221.7 101.46 L221.95 101.76 L222.2 102.07 L222.45 102.4 L222.7 102.73 L222.95 103.08 L223.2 103.43 L223.45 103.79 L223.7 104.16 L223.95 104.54 L224.2 104.92 L224.45 105.31 L224.7 105.7 L224.95 106.1 L225.2 106.5 L225.45 106.91 L225.7 107.32 L225.95 107.74 L226.2 108.16 L226.45 108.59 L226.7 109.02 L226.95 109.45 L227.2 109.89 L227.45 110.33 L227.7 110.77 L227.95 111.22 L228.2 111.67 L228.45 112.12 L228.7 112.58 L228.95 113.04 L229.2 113.5 L229.45 113.97 L229.7 114.44 L229.95 114.91 L230.2 115.38 L230.45 115.85 L230.7 116.33 L230.95 116.81 L231.2 117.3 L231.45 117.78 L231.7 118.27 L231.95 118.76 L232.2 119.25 L232.45 119.75 L232.7 120.25 L232.95 120.75 L233.2 121.25 L233.45 121.46 L233.7 120.76 L233.95 120.08 L234.2 119.4 L234.45 118.74 L234.7 118.08 L234.95 117.44 L235.2 116.81 L235.45 116.19 L235.7 115.58 L235.95 114.98 L236.2 114.39 L236.45 113.81 L236.7 113.25 L236.95 112.69 L237.2 112.15 L237.45 111.61 L237.7 111.09 L237.95 110.58 L238.2 110.08 L238.45 109.59 L238.7 109.11 L238.95 108.65 L239.2 108.19 L239.45 107.75 L239.7 107.32 L239.95 106.89 L240.2 106.48 L240.45 106.09 L240.7 105.7 L240.95 105.32 L241.2 104.96 L241.45 104.61 L241.7 104.27 L241.95 103.94 L242.2 103.62 L242.45 103.32 L242.7 103.02 L242.95 102.74 L243.2 102.47 L243.45 102.21 L243.7 101.97 L243.95 101.73 L244.2 101.51 L244.45 101.3 L244.7 101.11 L244.95 100.92 L245.2 100.75 L245.45 100.59 L245.7 100.44 L245.95 100.31 L246.2 100.19 L246.45 100.08 L246.7 99.99 L246.95 99.91 L247.2 99.84 L247.45 99.79 L247.7 99.76 L247.95 99.73 L248.2 99.88 L248.45 100.12 L248.7 100.39 L248.95 100.68 L249.2 100.99 L249.45 101.31 L249.7 101.64 L249.95 101.98 L250.2 102.33 L250.45 102.68 L250.7 103.05 L250.95 103.42 L251.2 103.8 L251.45 104.18 L251.7 104.57 L251.95 104.97 L252.2 105.37 L252.45 105.78 L252.7 106.19 L252.95 106.6 L253.2 107.02 L253.45 107.44 L253.7 107.87 L253.95 108.3 L254.2 108.74 L254.45 109.18 L254.7 109.62 L254.95 110.06 L255.2 110.51 L255.45 110.96 L255.7 111.42 L255.95 111.88 L256.2 112.34 L256.45 112.8 L256.7 113.27 L256.95 113.74 L257.2 114.21 L257.45 114.68 L257.7 115.16 L257.95 115.64 L258.2 116.12 L258.45 116.61 L258.7 117.09 L258.95 117.58 L259.2 118.08 L259.45 118.57 L259.7 119.07 L259.95 119.56 L260.2 120.06 L260.45 120.57 L260.7 120.2 L260.95 119.51 L261.2 118.83 L261.45 118.16 L261.7 117.5 L261.95 116.85 L262.2 116.21 L262.45 115.59 L262.7 114.97 L262.95 114.37 L263.2 113.77 L263.45 113.19 L263.7 112.62 L263.95 112.06 L264.2 111.51 L264.45 110.97 L264.7 110.44 L264.95 109.92 L265.2 109.42 L265.45 108.92 L265.7 108.44 L265.95 107.97 L266.2 107.51 L266.45 107.06 L266.7 106.62 L266.95 106.19 L267.2 105.77 L267.45 105.37 L267.7 104.98 L267.95 104.6 L268.2 104.23 L268.45 103.87 L268.7 103.52 L268.95 103.19 L269.2 102.86 L269.45 102.55 L269.7 102.25 L269.95 101.96 L270.2 101.69 L270.45 101.42 L270.7 101.17 L270.95 100.93 L271.2 100.7 L271.45 100.49 L271.7 100.28 L271.95 100.09 L272.2 99.92 L272.45 99.75 L272.7 99.6 L272.95 99.46 L273.2 99.33 L273.45 99.21 L273.7 99.11 L273.95 99.03 L274.2 98.95 L274.45 98.89 L274.7 98.85 L274.95 98.82 L275.2 98.86 L275.45 99.07 L275.7 99.33 L275.95 99.61 L276.2 99.9 L276.45 100.22 L276.7 100.54 L276.95 100.88 L277.2 101.22 L277.45 101.57 L277.7 101.93 L277.95 102.3 L278.2 102.68 L278.45 103.06 L278.7 103.45 L278.95 103.84 L279.2 104.24 L279.45 104.64 L279.7 105.05 L279.95 105.46 L280.2 105.88 L280.45 106.3 L280.7 106.73 L280.95 107.16 L281.2 107.59 L281.45 108.03 L281.7 108.47 L281.95 108.91 L282.2 109.36 L282.45 109.81 L282.7 110.26 L282.95 110.72 L283.2 111.18 L283.45 111.64 L283.7 112.1 L283.95 112.57 L284.2 113.04 L284.45 113.52 L284.7 113.99 L284.95 114.47 L285.2 114.95 L285.45 115.43 L285.7 115.92 L285.95 116.41 L286.2 116.9 L286.45 117.39 L286.7 117.88 L286.95 118.38 L287.2 118.88 L287.45 119.38 L287.7 119.64 L287.95 118.95 L288.2 118.26 L288.45 117.58 L288.7 116.92 L288.95 116.27 L289.2 115.62 L289.45 114.99 L289.7 114.37 L289.95 113.76 L290.2 113.16 L290.45 112.57 L290.7 111.99 L290.95 111.42 L291.2 110.87 L291.45 110.32 L291.7 109.79 L291.95 109.27 L292.2 108.76 L292.45 108.26 L292.7 107.77 L292.95 107.29 L293.2 106.82 L293.45 106.37 L293.7 105.92 L293.95 105.49 L294.2 105.07 L294.45 104.66 L294.7 104.26 L294.95 103.87 L295.2 103.49 L295.45 103.13 L295.7 102.78 L295.95 102.44 L296.2 102.11 L296.45 101.79 L296.7 101.48 L296.95 101.19 L297.2 100.91 L297.45 100.64 L297.7 100.38 L297.95 100.13 L298.2 99.9 L298.45 99.68 L298.7 99.47 L298.95 99.27 L299.2 99.08 L299.45 98.91 L299.7 98.75 L299.95 98.6 L300.2 98.47 L300.45 98.35 L300.7 98.24" fill="none" stroke="#0072BD" stroke-width="1.25" stroke-linejoin="round"/>
<line x1="156.7" y1="116.5" x2="300.7" y2="116.5" stroke="#000" stroke-width="1.1"/>
<g stroke="#262626" stroke-width="1.0" fill="none"><path d="M156.7 90.9 V134.2 H300.7" stroke-linecap="square"/><line x1="166.5" y1="134.2" x2="166.5" y2="131.6"/><line x1="193.65" y1="134.2" x2="193.65" y2="131.6"/><line x1="220.8" y1="134.2" x2="220.8" y2="131.6"/><line x1="247.95" y1="134.2" x2="247.95" y2="131.6"/><line x1="275.1" y1="134.2" x2="275.1" y2="131.6"/><line x1="156.7" y1="94.5" x2="159.3" y2="94.5"/><line x1="156.7" y1="105.4" x2="159.3" y2="105.4"/><line x1="156.7" y1="116.3" x2="159.3" y2="116.3"/><line x1="156.7" y1="127.2" x2="159.3" y2="127.2"/></g>
<text x="144.4" y="95.1" font-size="7.4" text-anchor="end">12.01</text>
<text x="144.2" y="106" font-size="7.4" text-anchor="end">12.005</text>
<text x="148.9" y="116.9" font-size="7.4" text-anchor="end">12</text>
<text x="144.2" y="127.8" font-size="7.4" text-anchor="end">11.995</text>
<text x="163.5" y="146.8" font-size="7.4" text-anchor="middle">9.53</text>
<text x="190.65" y="146.8" font-size="7.4" text-anchor="middle">9.54</text>
<text x="217.8" y="146.8" font-size="7.4" text-anchor="middle">9.55</text>
<text x="244.95" y="146.8" font-size="7.4" text-anchor="middle">9.56</text>
<text x="272.1" y="146.8" font-size="7.4" text-anchor="middle">9.57</text>
<text x="274.9" y="169.3" font-size="11" text-anchor="middle">×</text>
<text x="280" y="164.3" font-size="7.4" text-anchor="start">10</text>
<text x="292" y="159.2" font-size="6.0" text-anchor="start">-3</text>
<line x1="55.6" y1="36.4" x2="55.6" y2="50.2" stroke="#000" stroke-width="1.2"/>
<polygon points="55.6,55.4 52.2,47.6 55.6,50.2 59,47.6" fill="#000"/>
<line x1="176" y1="15.6" x2="176" y2="30.7" stroke="#000" stroke-width="1.2"/>
<polygon points="176,35.9 172.6,28.1 176,30.7 179.4,28.1" fill="#000"/>
<line x1="351.4" y1="86.8" x2="350.64" y2="75.39" stroke="#000" stroke-width="1.2"/>
<polygon points="350.3,70.2 354.21,77.76 350.64,75.39 347.42,78.21" fill="#000"/>
<line x1="211.9" y1="97" x2="216.89" y2="67.27" stroke="#000" stroke-width="1.2"/>
<polygon points="218.5,57.7 220.78,71.27 216.89,67.27 211.91,69.78" fill="#000"/>
<text font-size="7.9"><tspan x="35.5" y="25">V</tspan><tspan x="42.7" y="29.8" font-size="6.25" stroke-width="0.12">ref</tspan><tspan x="52.8" y="25">=12 V</tspan></text>
<text x="175.9" y="9.6" font-size="7.8" text-anchor="middle">14 V</text>
<text x="351.2" y="93.8" font-size="7.8" text-anchor="middle">10 V</text>
<rect x="400.7" y="89.7" width="124.4" height="50.5" fill="#fff" stroke="#262626" stroke-width="1"/>
<line x1="406.2" y1="97.5" x2="439.6" y2="97.5" stroke="#0072BD" stroke-width="2.3"/>
<line x1="406.2" y1="112.9" x2="439.6" y2="112.9" stroke="#000" stroke-width="1.4"/>
<line x1="406.2" y1="129.9" x2="439.6" y2="129.9" stroke="#A2142F" stroke-width="1.9" stroke-dasharray="6.8 2.4 1.9 2.6"/>
<text x="442.3" y="100.1" font-size="7.25" text-anchor="start">Output Voltage (V)</text>
<text font-size="7.25"><tspan x="442.3" y="112.5">V</tspan><tspan x="449" y="117.1" font-size="5.8" stroke-width="0.1">ref</tspan><tspan x="461.8" y="113.9">(V)</tspan></text>
<text font-size="7.25"><tspan x="442.3" y="128.7">V</tspan><tspan x="449.2" y="134.1" font-size="5.8" stroke-width="0.1">in</tspan><tspan x="459.6" y="131">(V)</tspan></text>
<g stroke="#262626" stroke-width="1.2" fill="none"><path d="M22 251 V408.9 H540.1" stroke-linecap="square"/><line x1="22" y1="408.9" x2="22" y2="403.2"/><line x1="125.62" y1="408.9" x2="125.62" y2="403.2"/><line x1="229.24" y1="408.9" x2="229.24" y2="403.2"/><line x1="332.86" y1="408.9" x2="332.86" y2="403.2"/><line x1="436.48" y1="408.9" x2="436.48" y2="403.2"/><line x1="540.1" y1="408.9" x2="540.1" y2="403.2"/><line x1="22" y1="251" x2="27.7" y2="251"/><line x1="22" y1="290.48" x2="27.7" y2="290.48"/><line x1="22" y1="329.95" x2="27.7" y2="329.95"/><line x1="22" y1="369.42" x2="27.7" y2="369.42"/><line x1="22" y1="408.9" x2="27.7" y2="408.9"/></g>
<path d="M22 397.06 L332.86 397.06 L332.86 290.48 L436.48 290.48 L436.48 397.06 L540.1 397.06" fill="none" stroke="#A2142F" stroke-width="1.25" stroke-dasharray="7 2.5 1.9 2.4"/>
<polygon points="30.6,407.9 31.1,407.83 31.6,407.75 32.1,407.68 32.6,407.6 33.1,407.53 33.6,407.45 34.1,407.38 34.6,407.3 35.1,407.23 35.6,407.15 36.1,407.08 36.6,407 37.1,406.93 37.6,406.85 38.1,406.78 38.6,406.7 39.1,406.63 39.6,406.55 40.1,406.48 40.6,406.4 41.1,406.33 41.6,406.25 42.1,406.18 42.6,406.11 43.1,406.03 43.6,405.96 44.1,405.88 44.6,405.81 45.1,405.73 45.6,405.66 46.1,405.58 46.6,405.51 47.1,405.43 47.6,405.36 48.1,405.28 48.6,405.21 49.1,405.13 49.6,405.06 50.1,404.98 50.6,404.91 51.1,404.83 51.6,404.76 52.1,404.68 52.6,404.61 53.1,404.53 53.6,404.46 54,404.4 54,408.5 53.6,408.5 53.1,408.5 52.6,408.5 52.1,408.5 51.6,408.5 51.1,408.5 50.6,408.5 50.1,408.5 49.6,408.5 49.1,408.5 48.6,408.5 48.1,408.5 47.6,408.5 47.1,408.5 46.6,408.5 46.1,408.5 45.6,408.5 45.1,408.5 44.6,408.5 44.1,408.5 43.6,408.5 43.1,408.5 42.6,408.5 42.1,408.5 41.6,408.5 41.1,408.5 40.6,408.5 40.1,408.5 39.6,408.5 39.1,408.5 38.6,408.5 38.1,408.5 37.6,408.5 37.1,408.5 36.6,408.5 36.1,408.5 35.6,408.5 35.1,408.5 34.6,408.5 34.1,408.5 33.6,408.5 33.1,408.5 32.6,408.5 32.1,408.5 31.6,408.5 31.1,408.5 30.6,408.5" fill="#0072BD" stroke="#0072BD" stroke-width="2.0" stroke-linejoin="round"/>
<polygon points="54,404.4 54.5,403.94 55,403.24 55.5,402.31 56,401.18 56.5,399.9 57,398.5 57.5,396.99 58,395.42 58.5,393.82 59,392.22 59.5,390.64 60,389.13 60.5,387.71 61,386.41 61.5,385.27 62,384.32 62.5,383.59 63,383.1 63.5,382.9 64,383 64.5,383.41 65,384.09 65.5,384.99 66,386.09 66.5,387.35 67,388.72 67.5,390.18 68,391.68 68.5,393.2 69,394.69 69.5,396.13 70,397.5 70.5,398.78 71,399.96 71.5,401.02 72,401.93 72.5,402.68 73,403.24 73.5,403.61 74,403.76 74.5,403.71 75,403.46 75.5,403.04 76,402.49 76.5,401.82 77,401.05 77.5,400.21 78,399.32 78.5,398.41 79,397.5 79.5,396.61 80,395.75 80.5,394.94 81,394.19 81.5,393.51 82,392.91 82.5,392.41 83,392.02 83.5,391.75 84,391.61 84.5,391.62 85,391.78 85.5,392.06 86,392.46 86.5,392.95 87,393.53 87.5,394.17 88,394.86 88.5,395.58 89,396.32 89.5,397.05 90,397.77 90.5,398.46 91,399.12 91.5,399.73 92,400.29 92.5,400.79 93,401.22 93.5,401.58 94,401.85 94.5,402.03 95,402.11 95.5,402.08 96,401.96 96.5,401.76 97,401.49 97.5,401.16 98,400.78 98.5,400.36 99,399.91 99.5,399.44 100,398.97 100.5,398.51 101,398.06 101.5,397.63 102,397.23 102.5,396.86 103,396.53 103.5,396.24 104,396 104.5,395.81 105,395.67 105.5,395.61 106,395.61 106.5,395.68 107,395.81 107.5,396 108,396.24 108.5,396.52 109,396.83 109.5,397.17 110,397.54 110.5,397.91 111,398.29 111.5,398.68 112,399.05 112.5,399.42 113,399.76 113.5,400.09 114,400.38 114.5,400.65 115,400.87 115.5,401.06 116,401.19 116.5,401.28 117,401.3 117.5,401.26 118,401.17 118.5,401.02 119,400.83 119.5,400.6 120,400.33 120.5,400.04 121,399.73 121.5,399.4 122,399.06 122.5,398.72 123,398.39 123.5,398.06 124,397.74 124.5,397.45 125,397.19 125.4,397 125.4,401.7 125,401.81 124.5,401.98 124,402.16 123.5,402.36 123,402.56 122.5,402.77 122,402.99 121.5,403.2 121,403.4 120.5,403.6 120,403.78 119.5,403.94 119,404.07 118.5,404.18 118,404.26 117.5,404.3 117,404.3 116.5,404.26 116,404.17 115.5,404.05 115,403.89 114.5,403.7 114,403.48 113.5,403.24 113,402.97 112.5,402.69 112,402.38 111.5,402.06 111,401.74 110.5,401.41 110,401.08 109.5,400.76 109,400.46 108.5,400.18 108,399.94 107.5,399.73 107,399.56 106.5,399.45 106,399.4 105.5,399.42 105,399.5 104.5,399.64 104,399.83 103.5,400.08 103,400.37 102.5,400.7 102,401.07 101.5,401.46 101,401.88 100.5,402.31 100,402.76 99.5,403.21 99,403.66 98.5,404.08 98,404.49 97.5,404.85 97,405.18 96.5,405.44 96,405.64 95.5,405.77 95,405.8 94.5,405.75 94,405.6 93.5,405.36 93,405.05 92.5,404.65 92,404.19 91.5,403.67 91,403.09 90.5,402.45 90,401.77 89.5,401.05 89,400.3 88.5,399.54 88,398.79 87.5,398.06 87,397.38 86.5,396.76 86,396.22 85.5,395.79 85,395.49 84.5,395.32 84,395.32 83.5,395.47 83,395.78 82.5,396.22 82,396.78 81.5,397.45 81,398.22 80.5,399.07 80,399.99 79.5,400.97 79,402 78.5,403.06 78,404.12 77.5,405.15 77,406.14 76.5,407.06 76,407.87 75.5,408.55 75,408.9 74.5,408.9 74,408.9 73.5,408.9 73,408.9 72.5,408.49 72,407.71 71.5,406.74 71,405.6 70.5,404.32 70,402.92 69.5,401.41 69,399.82 68.5,398.17 68,396.47 67.5,394.78 67,393.14 66.5,391.58 66,390.14 65.5,388.87 65,387.8 64.5,386.99 64,386.46 63.5,386.26 63,386.4 62.5,386.86 62,387.59 61.5,388.56 61,389.76 60.5,391.14 60,392.67 59.5,394.32 59,396.06 58.5,397.86 58,399.69 57.5,401.51 57,403.3 56.5,405.02 56,406.64 55.5,408.13 55,408.9 54.5,408.9 54,408.9" fill="#0072BD" stroke="#0072BD" stroke-width="2.0" stroke-linejoin="round"/>
<polygon points="133.2,403.5 133.7,403.5 134.2,403.5 134.7,403.5 135.2,403.5 135.7,403.5 136.2,403.5 136.7,403.5 137.2,403.5 137.7,403.5 138.2,403.5 138.7,403.5 139.2,403.5 139.7,403.5 140.2,403.5 140.7,403.5 141.2,403.5 141.7,403.5 142.2,403.5 142.7,403.5 143.2,403.5 143.7,403.5 144.2,403.5 144.7,403.5 145.2,403.5 145.7,403.5 146.2,403.5 146.7,403.5 147.2,403.5 147.7,403.5 148.2,403.5 148.7,403.5 149.2,403.5 149.7,403.5 150.2,403.5 150.7,403.5 151.2,403.5 151.7,403.5 152.2,403.5 152.7,403.5 153.2,403.5 153.7,403.5 154.2,403.5 154.7,403.5 155.2,403.5 155.7,403.5 156.2,403.5 156.7,403.5 157.2,403.5 157.7,403.5 158.2,403.5 158.7,403.5 159.2,403.5 159.7,403.5 160.2,403.5 160.7,403.5 161.2,403.5 161.7,403.5 162.2,403.5 162.7,403.5 163.2,403.5 163.7,403.5 164.2,403.5 164.7,403.5 165.2,403.5 165.7,403.5 166.2,403.5 166.7,403.5 167.2,403.5 167.8,403.5 167.8,408.5 167.2,408.5 166.7,408.5 166.2,408.5 165.7,408.5 165.2,408.5 164.7,408.5 164.2,408.5 163.7,408.5 163.2,408.5 162.7,408.5 162.2,408.5 161.7,408.5 161.2,408.5 160.7,408.5 160.2,408.5 159.7,408.5 159.2,408.5 158.7,408.5 158.2,408.5 157.7,408.5 157.2,408.5 156.7,408.5 156.2,408.5 155.7,408.5 155.2,408.5 154.7,408.5 154.2,408.5 153.7,408.5 153.2,408.5 152.7,408.5 152.2,408.5 151.7,408.5 151.2,408.5 150.7,408.5 150.2,408.5 149.7,408.5 149.2,408.5 148.7,408.5 148.2,408.5 147.7,408.5 147.2,408.5 146.7,408.5 146.2,408.5 145.7,408.5 145.2,408.5 144.7,408.5 144.2,408.5 143.7,408.5 143.2,408.5 142.7,408.5 142.2,408.5 141.7,408.5 141.2,408.5 140.7,408.5 140.2,408.5 139.7,408.5 139.2,408.5 138.7,408.5 138.2,408.5 137.7,408.5 137.2,408.5 136.7,408.5 136.2,408.5 135.7,408.5 135.2,408.5 134.7,408.5 134.2,408.5 133.7,408.5 133.2,408.5" fill="#0072BD" stroke="#0072BD" stroke-width="2.0" stroke-linejoin="round"/>
<polygon points="167.8,403.5 168.3,403.17 168.8,402.72 169.3,402.18 169.8,401.57 170.3,400.9 170.8,400.2 171.3,399.49 171.8,398.78 172.3,398.09 172.8,397.45 173.3,396.88 173.8,396.4 174.3,396.02 174.8,395.76 175.3,395.65 175.8,395.68 176.3,395.84 176.8,396.1 177.3,396.45 177.8,396.86 178.3,397.32 178.8,397.81 179.3,398.32 179.8,398.81 180.3,399.28 180.8,399.71 181.3,400.1 181.8,400.45 182.3,400.76 182.8,401.03 183.3,401.25 183.8,401.42 184.3,401.54 184.8,401.6 185.3,401.61 185.8,401.57 186.3,401.49 186.8,401.38 187.3,401.23 187.8,401.07 188.3,400.9 188.8,400.72 189.3,400.54 189.8,400.36 190.3,400.21 190.8,400.07 191.3,399.95 191.8,399.84 192.3,399.74 192.8,399.66 193.3,399.59 193.8,399.52 194.3,399.47 194.8,399.42 195.3,399.37 195.8,399.33 196.3,399.3 196.8,399.26 197.3,399.24 197.8,399.21 198.3,399.19 198.8,399.17 199.3,399.16 199.8,399.15 200.3,399.14 200.8,399.14 201.3,399.13 201.8,399.14 202.3,399.14 202.8,399.15 203.3,399.15 203.8,399.17 204.3,399.18 204.8,399.19 205.3,399.21 205.8,399.23 206.3,399.25 206.8,399.27 207.3,399.3 207.8,399.32 208.3,399.35 208.8,399.38 209.3,399.41 209.8,399.44 210.3,399.47 210.8,399.5 211.3,399.53 211.8,399.57 212.3,399.6 212.8,399.64 213.3,399.67 213.8,399.71 214.3,399.75 214.8,399.79 215.3,399.82 215.8,399.86 216.3,399.9 216.8,399.93 217.3,399.97 217.8,400.01 218.3,400.05 218.8,400.08 219.3,400.12 219.8,400.15 220.3,400.19 220.8,400.22 221.3,400.25 221.8,400.29 222.3,400.32 222.8,400.35 223.3,400.38 223.8,400.4 224.3,400.43 224.8,400.46 225.3,400.48 225.8,400.5 226.3,400.52 226.8,400.54 227.3,400.55 227.8,400.57 228.3,400.58 228.8,400.59 229.3,400.6 229.3,403.6 228.8,403.66 228.3,403.71 227.8,403.76 227.3,403.81 226.8,403.85 226.3,403.88 225.8,403.91 225.3,403.94 224.8,403.96 224.3,403.98 223.8,403.99 223.3,404 222.8,404.01 222.3,404.02 221.8,404.02 221.3,404.01 220.8,404.01 220.3,404 219.8,403.99 219.3,403.98 218.8,403.97 218.3,403.95 217.8,403.93 217.3,403.91 216.8,403.89 216.3,403.87 215.8,403.84 215.3,403.82 214.8,403.79 214.3,403.76 213.8,403.73 213.3,403.71 212.8,403.68 212.3,403.65 211.8,403.62 211.3,403.59 210.8,403.56 210.3,403.53 209.8,403.51 209.3,403.48 208.8,403.45 208.3,403.43 207.8,403.4 207.3,403.38 206.8,403.36 206.3,403.34 205.8,403.32 205.3,403.31 204.8,403.29 204.3,403.28 203.8,403.28 203.3,403.27 202.8,403.26 202.3,403.26 201.8,403.26 201.3,403.27 200.8,403.27 200.3,403.28 199.8,403.29 199.3,403.3 198.8,403.31 198.3,403.33 197.8,403.35 197.3,403.37 196.8,403.39 196.3,403.42 195.8,403.45 195.3,403.48 194.8,403.51 194.3,403.55 193.8,403.59 193.3,403.64 192.8,403.7 192.3,403.77 191.8,403.86 191.3,403.96 190.8,404.07 190.3,404.21 189.8,404.37 189.3,404.54 188.8,404.73 188.3,404.92 187.8,405.11 187.3,405.29 186.8,405.44 186.3,405.57 185.8,405.66 185.3,405.71 184.8,405.7 184.3,405.64 183.8,405.51 183.3,405.34 182.8,405.11 182.3,404.83 181.8,404.51 181.3,404.14 180.8,403.73 180.3,403.29 179.8,402.8 179.3,402.3 178.8,401.78 178.3,401.28 177.8,400.8 177.3,400.38 176.8,400.02 176.3,399.75 175.8,399.59 175.3,399.55 174.8,399.66 174.3,399.92 173.8,400.3 173.3,400.81 172.8,401.43 172.3,402.13 171.8,402.9 171.3,403.74 170.8,404.62 170.3,405.53 169.8,406.46 169.3,407.38 168.8,408.29 168.3,408.9 167.8,408.9" fill="#0072BD" stroke="#0072BD" stroke-width="2.0" stroke-linejoin="round"/>
<polygon points="229.7,404.5 230.2,404.5 230.7,404.5 231.2,404.5 231.7,404.5 232.2,404.5 232.7,404.5 233.2,404.5 233.7,404.5 234.2,404.5 234.7,404.5 235.2,404.5 235.7,404.5 236.2,404.5 236.7,404.5 237.2,404.5 237.7,404.5 238.2,404.5 238.7,404.5 239.2,404.5 239.7,404.5 240.2,404.5 240.7,404.5 241.2,404.5 241.7,404.5 242.2,404.5 242.7,404.5 243.2,404.5 243.2,408.5 242.7,408.5 242.2,408.5 241.7,408.5 241.2,408.5 240.7,408.5 240.2,408.5 239.7,408.5 239.2,408.5 238.7,408.5 238.2,408.5 237.7,408.5 237.2,408.5 236.7,408.5 236.2,408.5 235.7,408.5 235.2,408.5 234.7,408.5 234.2,408.5 233.7,408.5 233.2,408.5 232.7,408.5 232.2,408.5 231.7,408.5 231.2,408.5 230.7,408.5 230.2,408.5 229.7,408.5" fill="#0072BD" stroke="#0072BD" stroke-width="2.0" stroke-linejoin="round"/>
<polygon points="243.2,404.5 243.7,404.22 244.2,403.76 244.7,403.15 245.2,402.4 245.7,401.54 246.2,400.58 246.7,399.57 247.2,398.5 247.7,397.42 248.2,396.33 248.7,395.27 249.2,394.25 249.7,393.31 250.2,392.45 250.7,391.7 251.2,391.09 251.7,390.64 252.2,390.37 252.7,390.3 253.2,390.43 253.7,390.75 254.2,391.22 254.7,391.82 255.2,392.52 255.7,393.31 256.2,394.14 256.7,395.01 257.2,395.87 257.7,396.72 258.2,397.51 258.7,398.24 259.2,398.91 259.7,399.5 260.2,400.03 260.7,400.48 261.2,400.86 261.7,401.16 262.2,401.39 262.7,401.53 263.2,401.6 263.7,401.58 264.2,401.48 264.7,401.31 265.2,401.08 265.7,400.79 266.2,400.46 266.7,400.1 267.2,399.7 267.7,399.29 268.2,398.86 268.7,398.43 269.2,398 269.7,397.59 270.2,397.2 270.7,396.84 271.2,396.51 271.7,396.23 272.2,396 272.7,395.83 273.2,395.73 273.7,395.7 274.2,395.75 274.7,395.86 275.2,396.04 275.7,396.27 276.2,396.54 276.7,396.85 277.2,397.19 277.7,397.55 278.2,397.93 278.7,398.3 279.2,398.68 279.7,399.04 280.2,399.39 280.7,399.72 281.2,400.02 281.7,400.3 282.2,400.54 282.7,400.76 283.2,400.93 283.7,401.07 284.2,401.16 284.7,401.21 285.2,401.21 285.7,401.15 286.2,401.05 286.7,400.9 287.2,400.72 287.7,400.5 288.2,400.26 288.7,400 289.2,399.72 289.7,399.44 290.2,399.16 290.7,398.88 291.2,398.6 291.7,398.34 292.2,398.1 292.7,397.88 293.2,397.69 293.7,397.53 294.2,397.41 294.7,397.33 295.2,397.3 295.7,397.32 296.2,397.38 296.7,397.49 297.2,397.63 297.7,397.8 298.2,397.98 298.7,398.19 299.2,398.4 299.7,398.61 300.2,398.82 300.7,399.02 301.2,399.2 301.7,399.36 302.2,399.51 302.7,399.64 303.2,399.76 303.7,399.85 304.2,399.92 304.7,399.97 305.2,400 305.7,400 306.2,399.98 306.7,399.93 307.2,399.87 307.7,399.79 308.2,399.71 308.7,399.61 309.2,399.5 309.7,399.39 310.2,399.28 310.7,399.16 311.2,399.06 311.7,398.96 312.2,398.86 312.7,398.78 313.2,398.71 313.7,398.65 314.2,398.6 314.7,398.56 315.2,398.53 315.7,398.5 316.2,398.48 316.7,398.47 317.2,398.46 317.7,398.46 318.2,398.46 318.7,398.47 319.2,398.48 319.7,398.49 320.2,398.51 320.7,398.52 321.2,398.54 321.7,398.56 322.2,398.59 322.7,398.61 323.2,398.63 323.7,398.64 324.2,398.66 324.7,398.67 325.2,398.69 325.7,398.69 326.2,398.7 326.7,398.69 327.2,398.69 327.7,398.67 328.2,398.65 328.7,398.63 329.2,398.59 329.7,398.55 330.2,398.5 330.7,398.44 331.2,398.37 331.7,398.29 332.2,398.2 332.7,398.1 332.7,403 332.2,403.03 331.7,403.05 331.2,403.07 330.7,403.08 330.2,403.08 329.7,403.08 329.2,403.08 328.7,403.06 328.2,403.05 327.7,403.03 327.2,403 326.7,402.97 326.2,402.94 325.7,402.91 325.2,402.87 324.7,402.84 324.2,402.8 323.7,402.76 323.2,402.72 322.7,402.69 322.2,402.65 321.7,402.61 321.2,402.58 320.7,402.54 320.2,402.51 319.7,402.48 319.2,402.46 318.7,402.44 318.2,402.42 317.7,402.41 317.2,402.4 316.7,402.39 316.2,402.4 315.7,402.4 315.2,402.42 314.7,402.44 314.2,402.47 313.7,402.51 313.2,402.55 312.7,402.61 312.2,402.67 311.7,402.74 311.2,402.83 310.7,402.91 310.2,403 309.7,403.09 309.2,403.19 308.7,403.27 308.2,403.36 307.7,403.43 307.2,403.49 306.7,403.54 306.2,403.58 305.7,403.6 305.2,403.6 304.7,403.58 304.2,403.54 303.7,403.48 303.2,403.4 302.7,403.31 302.2,403.2 301.7,403.08 301.2,402.94 300.7,402.8 300.2,402.63 299.7,402.46 299.2,402.29 298.7,402.12 298.2,401.95 297.7,401.8 297.2,401.66 296.7,401.55 296.2,401.46 295.7,401.41 295.2,401.4 294.7,401.43 294.2,401.5 293.7,401.6 293.2,401.74 292.7,401.9 292.2,402.08 291.7,402.28 291.2,402.49 290.7,402.72 290.2,402.95 289.7,403.18 289.2,403.41 288.7,403.63 288.2,403.84 287.7,404.03 287.2,404.2 286.7,404.35 286.2,404.47 285.7,404.56 285.2,404.61 284.7,404.62 284.2,404.59 283.7,404.52 283.2,404.42 282.7,404.28 282.2,404.11 281.7,403.91 281.2,403.68 280.7,403.42 280.2,403.14 279.7,402.83 279.2,402.5 278.7,402.15 278.2,401.8 277.7,401.44 277.2,401.09 276.7,400.76 276.2,400.46 275.7,400.19 275.2,399.96 274.7,399.78 274.2,399.65 273.7,399.6 273.2,399.62 272.7,399.72 272.2,399.88 271.7,400.1 271.2,400.37 270.7,400.69 270.2,401.04 269.7,401.42 269.2,401.82 268.7,402.23 268.2,402.65 267.7,403.07 267.2,403.47 266.7,403.86 266.2,404.21 265.7,404.53 265.2,404.81 264.7,405.03 264.2,405.19 263.7,405.28 263.2,405.29 262.7,405.22 262.2,405.07 261.7,404.84 261.2,404.53 260.7,404.14 260.2,403.68 259.7,403.15 259.2,402.54 258.7,401.86 258.2,401.12 257.7,400.3 257.2,399.44 256.7,398.55 256.2,397.67 255.7,396.81 255.2,396 254.7,395.28 254.2,394.66 253.7,394.17 253.2,393.84 252.7,393.7 252.2,393.76 251.7,394.04 251.2,394.5 250.7,395.13 250.2,395.9 249.7,396.8 249.2,397.8 248.7,398.89 248.2,400.05 247.7,401.24 247.2,402.46 246.7,403.68 246.2,404.88 245.7,406.03 245.2,407.13 244.7,408.15 244.2,408.9 243.7,408.9 243.2,408.9" fill="#0072BD" stroke="#0072BD" stroke-width="2.0" stroke-linejoin="round"/>
<polygon points="332.7,398.1 333.2,398.99 333.7,399.88 334.2,400.77 334.7,401.66 335.2,402.54 335.7,403.43 336.2,404.32 336.7,404.51 337.2,404.52 337.7,404.54 338.2,404.55 338.7,404.56 339.2,404.57 339.7,404.59 340.2,404.6 340.7,404.61 341.2,404.62 341.7,404.64 342.2,404.65 342.7,404.66 343.2,404.67 343.7,404.69 344.2,404.7 344.7,404.71 345.2,404.72 345.7,404.74 346.2,404.75 346.7,404.76 347.2,404.77 347.7,404.79 348.2,404.8 348.7,404.81 349.2,404.82 349.7,404.84 350.2,404.85 350.7,404.86 351.2,404.88 351.7,404.89 352.2,404.9 352.7,404.91 353.2,404.93 353.7,404.94 354.2,404.95 354.7,404.96 355.2,404.98 355.7,404.99 356.2,405 356.7,405.01 357.2,405.03 357.7,405.04 358.2,405.05 358.7,405.06 359.2,405.08 359.7,405.09 360.2,405.1 360.7,405.11 361.2,405.13 361.7,405.14 362.2,405.15 362.7,405.16 363.2,405.18 363.7,405.19 364.2,405.2 364.7,405.21 365.2,405.23 365.7,405.24 366.2,405.25 366.7,405.27 367.2,405.28 367.7,405.29 368.2,405.3 368.7,405.32 369.2,405.33 369.7,405.34 370.2,405.35 370.7,405.37 371.2,405.38 371.7,405.39 372.2,405.4 372.7,405.42 373.2,405.43 373.7,405.44 374.2,405.45 374.7,405.47 375.2,405.48 375.7,405.49 376.2,405.5 376.7,405.52 377.2,405.53 377.7,405.54 378.2,405.55 378.7,405.57 379.2,405.58 379.7,405.59 380.2,405.6 380.7,405.61 381.2,405.62 381.7,405.63 382.2,405.64 382.7,405.65 383.2,405.66 383.7,405.67 384.2,405.68 384.7,405.68 385.2,405.69 385.7,405.7 386.2,405.71 386.7,405.72 387.2,405.73 387.7,405.74 388.2,405.75 388.7,405.76 389.2,405.76 389.7,405.77 390.2,405.78 390.7,405.79 391.2,405.8 391.7,405.81 392.2,405.82 392.7,405.83 393.2,405.84 393.7,405.84 394.2,405.85 394.7,405.86 395.2,405.87 395.7,405.88 396.2,405.89 396.7,405.9 397.2,405.91 397.7,405.92 398.2,405.93 398.7,405.93 399.2,405.94 399.7,405.95 400.2,405.96 400.7,405.97 401.2,405.98 401.7,405.99 402.2,406 402.7,406.01 403.2,406.01 403.7,406.02 404.2,406.03 404.7,406.04 405.2,406.05 405.7,406.06 406.2,406.07 406.7,406.08 407.2,406.09 407.7,406.09 408.2,406.1 408.7,406.11 409.2,406.12 409.7,406.13 410.2,406.14 410.7,406.15 411.2,406.16 411.7,406.17 412.2,406.18 412.7,406.18 413.2,406.19 413.7,406.2 414.2,406.21 414.7,406.22 415.2,406.23 415.7,406.24 416.2,406.25 416.7,406.26 417.2,406.26 417.7,406.27 418.2,406.28 418.7,406.29 419.2,406.3 419.7,406.31 420.2,406.32 420.7,406.33 421.2,406.34 421.7,406.34 422.2,406.35 422.7,406.36 423.2,406.37 423.7,406.38 424.2,406.39 424.7,406.4 425.2,406.41 425.7,406.42 426.2,406.43 426.7,406.43 427.2,406.44 427.7,406.45 428.2,406.46 428.7,406.47 429.2,406.48 429.7,406.49 430.2,406.5 430.7,406.51 431.2,406.51 431.7,406.52 432.2,406.53 432.7,406.54 433.2,406.55 433.7,406.56 434.2,406.57 434.7,406.58 435.2,406.59 435.7,406.59 436.2,406.58 436.7,406.53 437.2,406.48 437.7,406.43 438.2,406.38 438.7,406.33 439.2,406.28 439.7,406.23 440.2,406.19 440.7,406.14 441.2,406.09 441.7,406.04 442.2,405.99 442.7,405.94 443.2,405.89 443.7,405.84 444.2,405.79 444.7,405.74 445.2,405.69 445.7,405.64 446.2,405.59 446.7,405.54 447.2,405.5 447.7,405.45 448.2,405.4 448.7,405.35 449.2,405.3 449.7,405.25 450.2,405.2 450.7,405.15 451.2,405.1 451.7,405.05 452.2,405 452.7,404.95 453.2,404.9 453.7,404.85 454.2,404.8 454.7,404.76 455.2,404.71 455.7,404.66 456.2,404.61 456.7,404.56 457.2,404.51 457.7,404.46 458.3,404.4 458.3,408.7 457.7,408.71 457.2,408.71 456.7,408.71 456.2,408.72 455.7,408.72 455.2,408.73 454.7,408.73 454.2,408.74 453.7,408.74 453.2,408.75 452.7,408.75 452.2,408.75 451.7,408.76 451.2,408.76 450.7,408.77 450.2,408.77 449.7,408.78 449.2,408.78 448.7,408.79 448.2,408.79 447.7,408.8 447.2,408.8 446.7,408.8 446.2,408.81 445.7,408.81 445.2,408.82 444.7,408.82 444.2,408.83 443.7,408.83 443.2,408.84 442.7,408.84 442.2,408.84 441.7,408.85 441.2,408.85 440.7,408.86 440.2,408.86 439.7,408.87 439.2,408.87 438.7,408.88 438.2,408.88 437.7,408.88 437.2,408.89 436.7,408.89 436.2,408.9 435.7,408.9 435.2,408.9 434.7,408.9 434.2,408.9 433.7,408.9 433.2,408.9 432.7,408.9 432.2,408.9 431.7,408.9 431.2,408.9 430.7,408.9 430.2,408.9 429.7,408.9 429.2,408.9 428.7,408.9 428.2,408.9 427.7,408.9 427.2,408.9 426.7,408.9 426.2,408.9 425.7,408.9 425.2,408.9 424.7,408.9 424.2,408.9 423.7,408.9 423.2,408.9 422.7,408.9 422.2,408.9 421.7,408.9 421.2,408.9 420.7,408.9 420.2,408.9 419.7,408.9 419.2,408.9 418.7,408.9 418.2,408.9 417.7,408.9 417.2,408.9 416.7,408.9 416.2,408.9 415.7,408.9 415.2,408.9 414.7,408.9 414.2,408.9 413.7,408.9 413.2,408.9 412.7,408.9 412.2,408.9 411.7,408.9 411.2,408.9 410.7,408.9 410.2,408.9 409.7,408.9 409.2,408.9 408.7,408.9 408.2,408.9 407.7,408.9 407.2,408.9 406.7,408.9 406.2,408.9 405.7,408.9 405.2,408.9 404.7,408.9 404.2,408.9 403.7,408.9 403.2,408.9 402.7,408.9 402.2,408.9 401.7,408.9 401.2,408.9 400.7,408.9 400.2,408.9 399.7,408.9 399.2,408.9 398.7,408.9 398.2,408.9 397.7,408.9 397.2,408.9 396.7,408.9 396.2,408.9 395.7,408.9 395.2,408.9 394.7,408.9 394.2,408.9 393.7,408.9 393.2,408.9 392.7,408.9 392.2,408.9 391.7,408.9 391.2,408.9 390.7,408.9 390.2,408.9 389.7,408.9 389.2,408.9 388.7,408.9 388.2,408.9 387.7,408.9 387.2,408.9 386.7,408.9 386.2,408.9 385.7,408.9 385.2,408.9 384.7,408.9 384.2,408.9 383.7,408.9 383.2,408.9 382.7,408.9 382.2,408.9 381.7,408.9 381.2,408.9 380.7,408.9 380.2,408.9 379.7,408.9 379.2,408.9 378.7,408.9 378.2,408.9 377.7,408.9 377.2,408.9 376.7,408.9 376.2,408.9 375.7,408.9 375.2,408.9 374.7,408.9 374.2,408.9 373.7,408.9 373.2,408.9 372.7,408.9 372.2,408.9 371.7,408.9 371.2,408.9 370.7,408.9 370.2,408.9 369.7,408.9 369.2,408.9 368.7,408.9 368.2,408.9 367.7,408.9 367.2,408.9 366.7,408.9 366.2,408.9 365.7,408.9 365.2,408.9 364.7,408.9 364.2,408.9 363.7,408.9 363.2,408.9 362.7,408.9 362.2,408.9 361.7,408.9 361.2,408.9 360.7,408.9 360.2,408.9 359.7,408.9 359.2,408.9 358.7,408.9 358.2,408.9 357.7,408.9 357.2,408.9 356.7,408.9 356.2,408.9 355.7,408.9 355.2,408.9 354.7,408.9 354.2,408.9 353.7,408.9 353.2,408.9 352.7,408.9 352.2,408.9 351.7,408.9 351.2,408.9 350.7,408.9 350.2,408.9 349.7,408.9 349.2,408.9 348.7,408.9 348.2,408.9 347.7,408.9 347.2,408.9 346.7,408.9 346.2,408.9 345.7,408.9 345.2,408.9 344.7,408.9 344.2,408.9 343.7,408.9 343.2,408.9 342.7,408.9 342.2,408.9 341.7,408.9 341.2,408.9 340.7,408.9 340.2,408.9 339.7,408.9 339.2,408.9 338.7,408.9 338.2,408.9 337.7,408.9 337.2,408.9 336.7,408.9 336.2,408.74 335.7,407.92 335.2,407.1 334.7,406.28 334.2,405.46 333.7,404.64 333.2,403.82 332.7,403" fill="#0072BD" stroke="#0072BD" stroke-width="2.0" stroke-linejoin="round"/>
<polygon points="458.3,404.4 458.8,404.25 459.3,403.84 459.8,403.21 460.3,402.37 460.8,401.37 461.3,400.24 461.8,399 462.3,397.68 462.8,396.31 463.3,394.92 463.8,393.55 464.3,392.22 464.8,390.96 465.3,389.8 465.8,388.78 466.3,387.92 466.8,387.25 467.3,386.8 467.8,386.6 468.3,386.67 468.8,386.99 469.3,387.53 469.8,388.25 470.3,389.12 470.8,390.1 471.3,391.17 471.8,392.28 472.3,393.41 472.8,394.53 473.3,395.6 473.8,396.58 474.3,397.47 474.8,398.26 475.3,398.97 475.8,399.58 476.3,400.1 476.8,400.53 477.3,400.87 477.8,401.13 478.3,401.3 478.8,401.39 479.3,401.4 479.8,401.33 480.3,401.17 480.8,400.95 481.3,400.66 481.8,400.31 482.3,399.9 482.8,399.44 483.3,398.93 483.8,398.37 484.3,397.78 484.8,397.16 485.3,396.52 485.8,395.89 486.3,395.28 486.8,394.72 487.3,394.22 487.8,393.79 488.3,393.47 488.8,393.26 489.3,393.19 489.8,393.25 490.3,393.44 490.8,393.73 491.3,394.11 491.8,394.55 492.3,395.05 492.8,395.58 493.3,396.13 493.8,396.67 494.3,397.2 494.8,397.69 495.3,398.14 495.8,398.54 496.3,398.9 496.8,399.22 497.3,399.49 497.8,399.71 498.3,399.89 498.8,400.01 499.3,400.08 499.8,400.1 500.3,400.07 500.8,399.98 501.3,399.86 501.8,399.69 502.3,399.49 502.8,399.26 503.3,399.01 503.8,398.73 504.3,398.43 504.8,398.13 505.3,397.81 505.8,397.49 506.3,397.18 506.8,396.88 507.3,396.6 507.8,396.34 508.3,396.12 508.8,395.94 509.3,395.8 509.8,395.72 510.3,395.7 510.8,395.74 511.3,395.84 511.8,395.99 512.3,396.18 512.8,396.4 513.3,396.65 513.8,396.92 514.3,397.19 514.8,397.47 515.3,397.74 515.8,398 516.3,398.24 516.8,398.46 517.3,398.66 517.8,398.84 518.3,399 518.8,399.13 519.3,399.23 519.8,399.32 520.3,399.37 520.8,399.4 521.3,399.4 521.8,399.37 522.3,399.31 522.8,399.24 523.3,399.15 523.8,399.04 524.3,398.93 524.8,398.8 525.3,398.67 525.8,398.53 526.3,398.4 526.8,398.27 527.3,398.15 527.8,398.03 528.3,397.92 528.8,397.83 529.3,397.75 529.8,397.68 530.3,397.63 530.8,397.6 531.3,397.59 531.8,397.61 532.3,397.65 532.8,397.71 533.3,397.79 533.8,397.88 534.3,397.99 534.8,398.1 535.3,398.23 535.8,398.36 536.3,398.5 536.8,398.64 537.3,398.77 537.8,398.9 538.3,399.03 538.8,399.14 539.3,399.24 539.6,399.3 539.6,403.4 539.3,403.34 538.8,403.22 538.3,403.11 537.8,402.98 537.3,402.85 536.8,402.73 536.3,402.6 535.8,402.48 535.3,402.36 534.8,402.24 534.3,402.14 533.8,402.04 533.3,401.96 532.8,401.89 532.3,401.84 531.8,401.81 531.3,401.79 530.8,401.8 530.3,401.82 529.8,401.86 529.3,401.92 528.8,401.99 528.3,402.07 527.8,402.16 527.3,402.27 526.8,402.38 526.3,402.5 525.8,402.63 525.3,402.75 524.8,402.88 524.3,403.01 523.8,403.12 523.3,403.23 522.8,403.32 522.3,403.4 521.8,403.46 521.3,403.49 520.8,403.5 520.3,403.48 519.8,403.43 519.3,403.36 518.8,403.26 518.3,403.14 517.8,402.99 517.3,402.83 516.8,402.64 516.3,402.43 515.8,402.2 515.3,401.95 514.8,401.69 514.3,401.42 513.8,401.15 513.3,400.9 512.8,400.66 512.3,400.44 511.8,400.26 511.3,400.12 510.8,400.03 510.3,400 509.8,400.03 509.3,400.12 508.8,400.26 508.3,400.46 507.8,400.69 507.3,400.96 506.8,401.27 506.3,401.59 505.8,401.93 505.3,402.29 504.8,402.64 504.3,403 503.8,403.35 503.3,403.68 502.8,403.99 502.3,404.27 501.8,404.52 501.3,404.72 500.8,404.87 500.3,404.97 499.8,405 499.3,404.97 498.8,404.86 498.3,404.7 497.8,404.47 497.3,404.19 496.8,403.86 496.3,403.48 495.8,403.06 495.3,402.6 494.8,402.11 494.3,401.59 493.8,401.05 493.3,400.5 492.8,399.96 492.3,399.44 491.8,398.96 491.3,398.52 490.8,398.16 490.3,397.87 489.8,397.68 489.3,397.6 488.8,397.64 488.3,397.81 487.8,398.08 487.3,398.45 486.8,398.91 486.3,399.43 485.8,400.02 485.3,400.64 484.8,401.29 484.3,401.96 483.8,402.64 483.3,403.3 482.8,403.95 482.3,404.55 481.8,405.11 481.3,405.6 480.8,406.02 480.3,406.35 479.8,406.58 479.3,406.7 478.8,406.69 478.3,406.56 477.8,406.31 477.3,405.95 476.8,405.48 476.3,404.91 475.8,404.23 475.3,403.47 474.8,402.61 474.3,401.67 473.8,400.65 473.3,399.55 472.8,398.4 472.3,397.21 471.8,396.03 471.3,394.88 470.8,393.78 470.3,392.78 469.8,391.9 469.3,391.17 468.8,390.63 468.3,390.29 467.8,390.2 467.3,390.37 466.8,390.79 466.3,391.43 465.8,392.27 465.3,393.28 464.8,394.43 464.3,395.7 463.8,397.07 463.3,398.51 462.8,399.99 462.3,401.48 461.8,402.97 461.3,404.42 460.8,405.82 460.3,407.12 459.8,408.32 459.3,408.9 458.8,408.9 458.3,408.9" fill="#0072BD" stroke="#0072BD" stroke-width="2.0" stroke-linejoin="round"/>
<path d="M22.2 409 L22.6 390 L23 369 L23.9 330 L24.7 308 L25.6 291 L26.2 284.6 L26.8 282.2 L27.4 284.6 L28.1 291 L29.1 330 L30.1 369 L30.75 408" fill="none" stroke="#0072BD" stroke-width="1.4" stroke-linejoin="round"/>
<path d="M125.2 399 L127 387 L129 371.2 L131.1 387 L133.3 405.5" fill="none" stroke="#0072BD" stroke-width="2.4" stroke-linejoin="round" stroke-linecap="round"/>
<text x="5.64" y="251.6" font-size="7.8" text-anchor="start">80</text>
<text x="5.64" y="291.08" font-size="7.8" text-anchor="start">60</text>
<text x="5.64" y="330.55" font-size="7.8" text-anchor="start">40</text>
<text x="5.64" y="370.02" font-size="7.8" text-anchor="start">20</text>
<text x="11.42" y="409.5" font-size="7.8" text-anchor="start">0</text>
<text x="20.98" y="420.8" font-size="7.8" text-anchor="middle">0</text>
<text x="122.07" y="420.8" font-size="7.8" text-anchor="middle">0.005</text>
<text x="226.41" y="420.8" font-size="7.8" text-anchor="middle">0.01</text>
<text x="329.31" y="420.8" font-size="7.8" text-anchor="middle">0.015</text>
<text x="433.65" y="420.8" font-size="7.8" text-anchor="middle">0.02</text>
<text x="536.55" y="420.8" font-size="7.8" text-anchor="middle">0.025</text>
<rect x="195.9" y="277.3" width="122.4" height="61.9" fill="#fff"/>
<g stroke="#262626" stroke-opacity="0.165" stroke-width="0.9" fill="none"><line x1="199.6" y1="277.3" x2="199.6" y2="339.2"/><line x1="255.1" y1="277.3" x2="255.1" y2="339.2"/><line x1="310.5" y1="277.3" x2="310.5" y2="339.2"/><line x1="195.9" y1="291.5" x2="318.3" y2="291.5"/><line x1="195.9" y1="313.5" x2="318.3" y2="313.5"/><line x1="195.9" y1="335.4" x2="318.3" y2="335.4"/></g>
<path d="M195.9 335.4 L200 335.4 L211.5 284.6 L220.5 335.4 L227.8 335.4 L239 284.6 L247.8 335.4 L255.1 335.4 L266.4 284.6 L275.4 335.4 L282.6 335.4 L294 284.6 L302.8 335.4 L310.4 335.4 L318.3 300.5" fill="none" stroke="#0072BD" stroke-width="1.25" stroke-linejoin="miter"/>
<g stroke="#262626" stroke-width="1.0" fill="none"><path d="M195.9 277.3 V339.2 H318.3" stroke-linecap="square"/><line x1="199.6" y1="339.2" x2="199.6" y2="336.6"/><line x1="255.1" y1="339.2" x2="255.1" y2="336.6"/><line x1="310.5" y1="339.2" x2="310.5" y2="336.6"/><line x1="195.9" y1="291.5" x2="198.5" y2="291.5"/><line x1="195.9" y1="313.5" x2="198.5" y2="313.5"/><line x1="195.9" y1="335.4" x2="198.5" y2="335.4"/></g>
<text x="188.7" y="293.1" font-size="7.4" text-anchor="end">2</text>
<text x="188.7" y="315.1" font-size="7.4" text-anchor="end">1</text>
<text x="188.7" y="337" font-size="7.4" text-anchor="end">0</text>
<text x="195.53" y="352.6" font-size="7.4" text-anchor="middle">0.0174</text>
<text x="251.03" y="352.6" font-size="7.4" text-anchor="middle">0.0174</text>
<text x="306.43" y="352.6" font-size="7.4" text-anchor="middle">0.0174</text>
<line x1="319.5" y1="344" x2="401.16" y2="394.68" stroke="#000" stroke-width="1.2"/>
<polygon points="409.4,399.8 395.93,396.85 401.16,394.68 400.78,389.04" fill="#000"/>
<line x1="150.7" y1="366.2" x2="151.4" y2="384.7" stroke="#000" stroke-width="1.2"/>
<polygon points="151.6,389.9 147.91,382.23 151.4,384.7 154.7,381.98" fill="#000"/>
<line x1="388.9" y1="307.7" x2="388.08" y2="296.39" stroke="#000" stroke-width="1.2"/>
<polygon points="387.7,291.2 391.66,298.73 388.08,296.39 384.87,299.23" fill="#000"/>
<text x="150.5" y="360.7" font-size="7.8" text-anchor="middle">6 Ω</text>
<text x="387.9" y="314.9" font-size="7.8" text-anchor="middle">60 Ω</text>
<rect x="441.3" y="264.2" width="92.3" height="33.4" fill="#fff" stroke="#262626" stroke-width="1"/>
<line x1="447.5" y1="273.6" x2="480.2" y2="273.6" stroke="#A2142F" stroke-width="2.0" stroke-dasharray="6.8 2.4 1.9 2.6"/>
<line x1="447.5" y1="288.3" x2="480.2" y2="288.3" stroke="#0072BD" stroke-width="1.1"/>
<text x="482.8" y="276.2" font-size="7.25" text-anchor="start">R (Ω)</text>
<text x="482.8" y="290" font-size="7.25" text-anchor="start">Current (A)</text>
</svg>
</body></html>
